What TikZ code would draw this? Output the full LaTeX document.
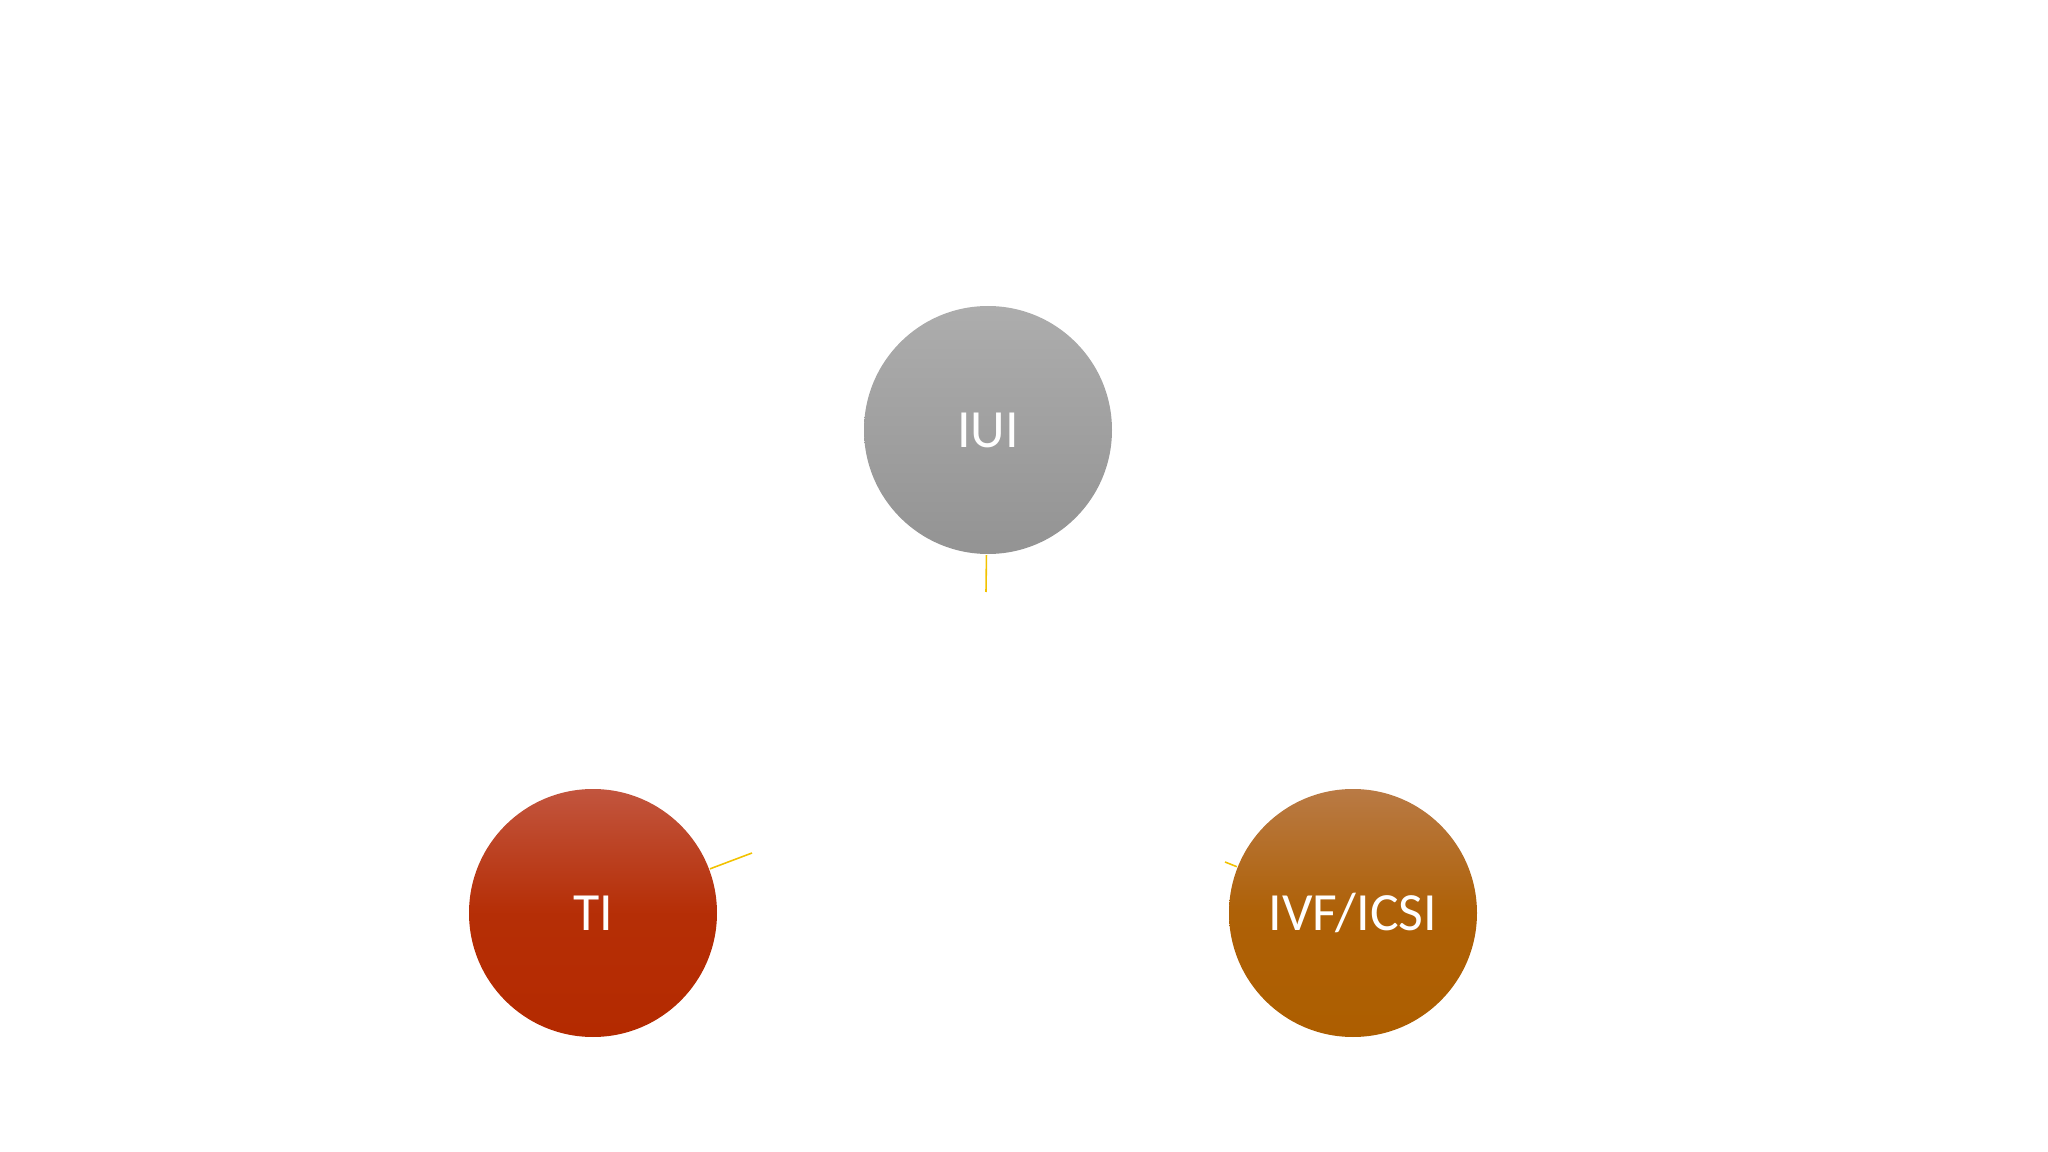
\documentclass[tikz,border=0pt]{standalone}
\usepackage{fontspec}
\setmainfont{Carlito}
\usepackage{tikz}
\usetikzlibrary{positioning}

\definecolor{iuitop}{HTML}{ADADAD}
\definecolor{iuibot}{HTML}{939393}
\definecolor{titop}{HTML}{C2553E}
\definecolor{tibot}{HTML}{B42A00}
\definecolor{ivftop}{HTML}{B97A45}
\definecolor{ivfbot}{HTML}{AD5E00}
\definecolor{stub}{HTML}{F2C200}

\begin{document}
\begin{tikzpicture}[
            semithick, % line style
            every node/.style={text=white, font=\fontsize{15.3}{18}\selectfont}
        ]

        \tikzstyle{method}=[
            circle,
            minimum size = 2.48cm,
            inner sep = 0pt
        ]

        \useasboundingbox (0,0) rectangle (20.48,-11.52);

        \node[method, top color=iuitop, bottom color=iuibot] (IUI) at (9.88,-4.30) {IUI};
        \node[method, top color=titop, bottom color=tibot, middle color=tibot!90!titop] (TI) at (5.93,-9.13) {TI};
        \node[method, top color=ivftop, bottom color=ivfbot, middle color=ivfbot!90!ivftop] (IVF) at (13.53,-9.13) {IVF/ICSI};

        % loose ends of the connectors
        \coordinate (IUIend) at (9.86,-5.92);
        \coordinate (TIend) at (7.52,-8.53);
        \coordinate (IVFend) at (12.25,-8.62);

        \path[-, draw=stub, line width=0.45pt]
            (IUI)    edge  (IUIend)
            (TI)     edge  (TIend)
            (IVF)    edge  (IVFend);

  \end{tikzpicture}
\end{document}
